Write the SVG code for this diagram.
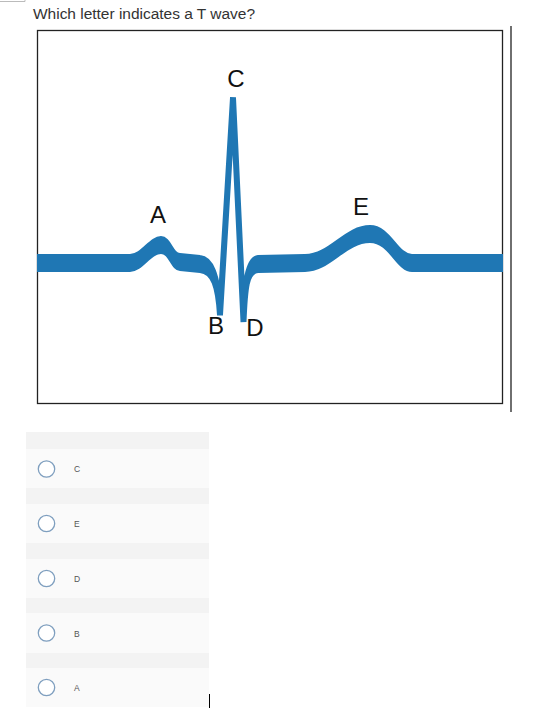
<svg xmlns="http://www.w3.org/2000/svg" width="551" height="723" viewBox="0 0 551 723">
<style>
.lbl{font-family:"Liberation Sans",Arial,sans-serif;font-size:24px;fill:#111;text-anchor:middle}
.opt{font-family:"Liberation Sans",Arial,sans-serif;font-size:8.5px;fill:#555}
.band{fill:#f3f3f3}
.row{fill:#fafafa}
.radio{fill:#fff;stroke:#7f9fbf;stroke-width:1.3}
</style>
<rect width="551" height="723" fill="#fff"/>
<polyline points="0,1.5 25,1.5 25,0" fill="none" stroke="#bbb" stroke-width="1"/>
<g id="title">
<text x="33" y="18.5" font-family="'Liberation Sans',Arial,sans-serif" font-size="15.5" fill="#333" textLength="222" lengthAdjust="spacing">Which letter indicates a T wave?</text>
</g>
<g id="figure">
<rect x="37.5" y="30.5" width="465" height="373" fill="#fff" stroke="#222" stroke-width="1.3"/>
<line x1="511" y1="26" x2="511" y2="412" stroke="#222" stroke-width="1.3"/>
</g>
<g id="ecg">
<path transform="scale(0.333333,1)" fill="none" stroke="#1f77b4" stroke-width="18" stroke-linejoin="bevel" stroke-linecap="butt" d="M111,263 L390,263 C426,263 450,245 483,245 C510,245 516,262 540,262 L600,264 C636,265 654,280 660,314 L699,98.5 L730.5,321 C735,285 741,265 774,264 L915,263 C990,263 1035,234 1110,234 C1170,234 1191,263 1236,263 L1509,263"/>
</g>
<g id="label-A"><text class="lbl" x="158" y="222.5">A</text></g>
<g id="label-B"><text class="lbl" x="216" y="333.5">B</text></g>
<g id="label-C"><text class="lbl" x="236" y="87">C</text></g>
<g id="label-D"><text class="lbl" x="255" y="336">D</text></g>
<g id="label-E"><text class="lbl" x="361" y="215">E</text></g>
<g id="options">
<rect class="band" x="26" y="432" width="183" height="17"/>
<rect class="row" x="26" y="449" width="183" height="39"/>
<rect class="band" x="26" y="488" width="183" height="16"/>
<rect class="row" x="26" y="504" width="183" height="39"/>
<rect class="band" x="26" y="543" width="183" height="16"/>
<rect class="row" x="26" y="559" width="183" height="39"/>
<rect class="band" x="26" y="598" width="183" height="15"/>
<rect class="row" x="26" y="613" width="183" height="40"/>
<rect class="band" x="26" y="653" width="183" height="15"/>
<rect class="row" x="26" y="668" width="183" height="39"/>
<g id="opt-C"><circle class="radio" cx="46.5" cy="469" r="8.2"/><text class="opt" x="74" y="472">C</text></g>
<g id="opt-E"><circle class="radio" cx="46.5" cy="523.5" r="8.2"/><text class="opt" x="74" y="527">E</text></g>
<g id="opt-D"><circle class="radio" cx="46.5" cy="578.5" r="8.2"/><text class="opt" x="74" y="582">D</text></g>
<g id="opt-B"><circle class="radio" cx="46.5" cy="633" r="8.2"/><text class="opt" x="74" y="636.5">B</text></g>
<g id="opt-A"><circle class="radio" cx="46.5" cy="687.5" r="8.2"/><text class="opt" x="74" y="691">A</text></g>
</g>
<line x1="209.5" y1="694" x2="209.5" y2="708" stroke="#000" stroke-width="1"/>
<g id="connectors"/>
</svg>
